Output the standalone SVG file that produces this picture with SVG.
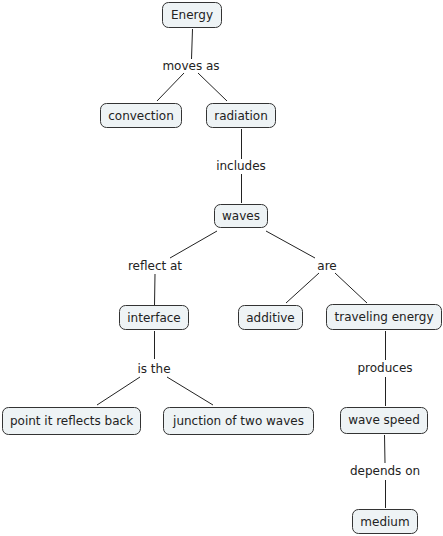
<svg xmlns="http://www.w3.org/2000/svg" width="443" height="536" viewBox="0 0 443 536">
<style>
.n rect{fill:#eef3f5;stroke:#333;stroke-width:1}
text{font-family:"DejaVu Sans",Verdana,sans-serif;font-size:12px;fill:#222;text-anchor:middle}
.c line{stroke:#222;stroke-width:1}
</style>
<rect width="443" height="536" fill="#fff"/>
<g class="c" id="connectors">
<line x1="192.5" y1="29" x2="191.5" y2="59"/>
<line x1="184" y1="73" x2="157" y2="101"/>
<line x1="198" y1="73" x2="227" y2="101"/>
<text x="191" y="70">moves as</text>
<line x1="241.5" y1="129" x2="241.5" y2="159"/>
<text x="241" y="170">includes</text>
<line x1="241.5" y1="174" x2="241.5" y2="203"/>
<line x1="217" y1="231" x2="170" y2="258"/>
<text x="155" y="270">reflect at</text>
<line x1="155" y1="274" x2="154.5" y2="305"/>
<line x1="266" y1="231" x2="315" y2="258"/>
<text x="327" y="270">are</text>
<line x1="319" y1="273" x2="286" y2="303"/>
<line x1="335" y1="273" x2="367" y2="303"/>
<line x1="154.5" y1="331" x2="154.5" y2="359"/>
<text x="154" y="373">is the</text>
<line x1="140" y1="377" x2="97" y2="405"/>
<line x1="167" y1="377" x2="213" y2="405"/>
<line x1="385.5" y1="331" x2="385.5" y2="360"/>
<text x="385" y="372">produces</text>
<line x1="385.5" y1="377" x2="385.5" y2="406"/>
<line x1="384.5" y1="435" x2="385" y2="463"/>
<text x="385" y="475">depends on</text>
<line x1="385.5" y1="480" x2="385.5" y2="508"/>
</g>
<g class="n" id="energy"><rect x="162.5" y="2.5" width="59" height="25" rx="6"/><text x="192" y="19">Energy</text></g>
<g class="n" id="convection"><rect x="100.5" y="103.5" width="81" height="24" rx="6"/><text x="141" y="120">convection</text></g>
<g class="n" id="radiation"><rect x="206.5" y="103.5" width="69" height="24" rx="6"/><text x="241" y="120">radiation</text></g>
<g class="n" id="waves"><rect x="214.5" y="204.5" width="53" height="23" rx="6"/><text x="241" y="220">waves</text></g>
<g class="n" id="interface"><rect x="119.5" y="305.5" width="69" height="24" rx="6"/><text x="154" y="322">interface</text></g>
<g class="n" id="additive"><rect x="238.5" y="305.5" width="64" height="24" rx="6"/><text x="270.5" y="322">additive</text></g>
<g class="n" id="traveling"><rect x="326.5" y="304.5" width="115" height="25" rx="6"/><text x="384" y="321">traveling energy</text></g>
<g class="n" id="point"><rect x="2.5" y="407.5" width="138" height="27" rx="6"/><text x="71.5" y="425">point it reflects back</text></g>
<g class="n" id="junction"><rect x="163.5" y="407.5" width="150" height="27" rx="6"/><text x="238.5" y="425">junction of two waves</text></g>
<g class="n" id="wavespeed"><rect x="340.5" y="407.5" width="87" height="26" rx="6"/><text x="384" y="424">wave speed</text></g>
<g class="n" id="medium"><rect x="352.5" y="509.5" width="65" height="24" rx="6"/><text x="385" y="526">medium</text></g>
</svg>
